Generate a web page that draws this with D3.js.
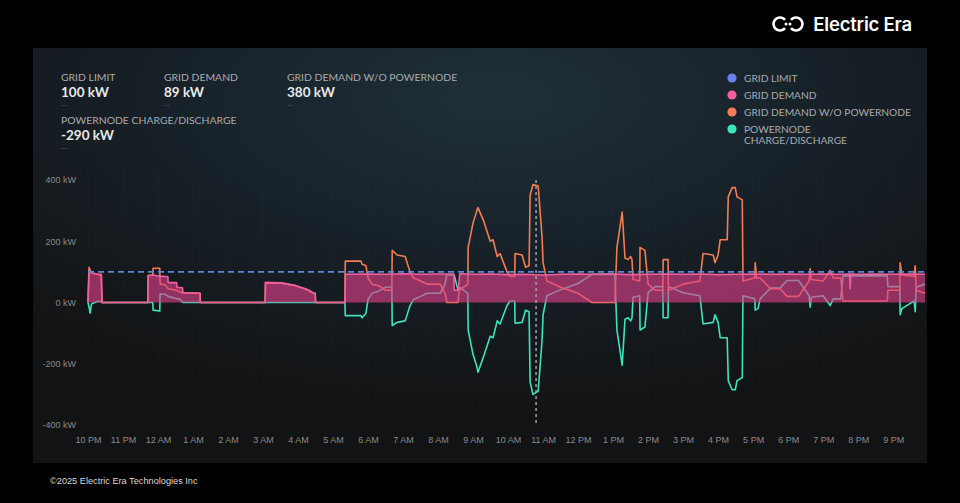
<!DOCTYPE html>
<html>
<head>
<meta charset="utf-8">
<script src="https://cdn.jsdelivr.net/npm/d3@7"></script>
<style>
  html, body { margin: 0; padding: 0; background: #000; }
  svg { display: block; }
</style>
</head>
<body>
<div id="chart"></div>
<script>
// hours after 10 PM -> kW
var gridLimit = [[0, 100], [23.91, 100]];

var gridDemand = [
  [0, 0], [0.03, 100], [0.1, 97], [0.25, 93], [0.38, 92], [0.4, 0],
  [1.71, 0], [1.72, 88], [1.86, 90], [2.05, 86], [2.2, 85], [2.28, 85], [2.29, 65], [2.53, 65], [2.54, 50], [2.7, 48], [2.71, 32], [3.2, 30], [3.21, 0],
  [5.06, 0], [5.07, 65], [5.49, 64], [5.7, 60], [5.9, 56], [6.06, 50], [6.2, 45], [6.3, 40], [6.43, 31], [6.49, 30], [6.5, 0],
  [7.34, 0], [7.35, 92], [8.0, 93], [8.5, 92], [9.0, 94], [9.5, 92], [10.0, 93], [10.45, 93], [10.46, 40], [10.57, 40], [10.6, 70], [10.62, 94],
  [11.0, 92], [11.5, 93], [12.0, 91], [12.5, 92], [13.0, 90], [13.5, 92], [14.0, 93], [14.5, 92], [15.0, 93], [15.5, 91], [16.0, 92],
  [16.5, 93], [17.0, 92], [17.5, 93], [18.0, 91], [18.5, 92], [19.0, 93], [19.5, 92], [20.0, 93], [20.5, 92], [21.0, 93], [21.5, 92],
  [21.76, 93], [21.77, 45], [21.79, 93], [22.0, 92], [22.5, 93], [23.0, 92], [23.5, 93], [23.91, 92]
];

var demandNoPowernode = [
  [0, 0], [0.03, 115], [0.08, 100], [0.12, 96], [0.38, 88], [0.4, 0],
  [1.71, 0], [1.72, 88], [1.85, 88], [1.86, 112], [2.05, 112], [2.06, 60], [2.2, 58], [2.29, 45], [2.54, 40], [2.6, 35], [2.71, 32], [3.2, 30], [3.21, 0],
  [5.06, 0], [5.07, 65], [5.49, 64], [5.7, 60], [5.9, 56], [6.06, 50], [6.2, 45], [6.3, 40], [6.43, 31], [6.49, 30], [6.5, 0],
  [7.34, 0], [7.35, 135], [7.8, 135], [7.83, 125], [7.94, 120], [8.0, 80], [8.11, 60], [8.3, 55], [8.5, 40], [8.68, 40],
  [8.69, 170], [8.83, 155], [9.06, 150], [9.2, 100], [9.3, 80], [9.5, 70], [9.69, 60], [10.06, 60], [10.2, 30], [10.25, 0], [10.57, 0],
  [10.6, 40], [10.85, 60], [10.86, 180], [11.0, 260], [11.11, 300], [11.14, 310], [11.29, 270], [11.49, 200], [11.57, 205], [11.69, 150],
  [11.77, 160], [11.97, 100], [12.06, 85], [12.19, 85], [12.2, 160], [12.4, 155], [12.5, 115], [12.6, 120], [12.63, 350], [12.71, 385],
  [12.86, 380], [12.97, 215], [13.0, 130], [13.11, 70], [13.5, 50], [14.0, 30], [14.4, 0], [15.05, 0],
  [15.11, 180], [15.26, 295], [15.34, 145], [15.43, 140], [15.5, 150], [15.54, 140], [15.57, 75], [15.76, 70], [15.77, 180], [15.91, 170],
  [16.0, 60], [16.2, 40], [16.42, 40], [16.43, 140], [16.57, 140], [16.58, 40], [17.0, 60], [17.48, 70],
  [17.57, 160], [17.86, 155], [17.91, 130], [18.0, 155], [18.06, 205], [18.26, 205], [18.29, 345], [18.4, 375], [18.49, 375], [18.54, 345],
  [18.69, 335], [18.71, 70], [19.05, 80], [19.06, 130], [19.1, 80], [19.2, 80], [19.5, 45], [19.77, 45], [19.97, 20], [20.3, 20],
  [20.6, 70], [20.63, 110], [20.66, 75], [21.0, 70], [21.2, 105], [21.29, 80], [21.5, 80], [21.57, 5], [22.83, 5], [22.85, 40],
  [23.19, 40], [23.2, 130], [23.25, 90], [23.6, 85], [23.63, 120], [23.66, 40], [23.91, 30]
];

var powernode = [
  [0, 0], [0.03, -15], [0.06, -35], [0.1, -5], [0.25, 3], [0.38, 4], [0.4, 0],
  [1.71, 0], [1.85, 0], [1.86, -25], [2.05, -28], [2.06, 28], [2.2, 27], [2.29, 20], [2.54, 12], [2.6, 13], [2.71, 0], [7.34, 0],
  [7.35, -43], [7.8, -43], [7.83, -50], [7.94, -35], [8.0, 10], [8.11, 30], [8.3, 37], [8.5, 50], [8.68, 50],
  [8.69, -75], [8.83, -65], [9.06, -60], [9.2, -10], [9.3, 10], [9.5, 20], [9.69, 30], [10.06, 30], [10.2, 60], [10.25, 90], [10.46, 90],
  [10.57, 40], [10.6, 50], [10.85, 30], [10.86, -90], [11.0, -170], [11.11, -210], [11.14, -228], [11.29, -180], [11.49, -110], [11.57, -115],
  [11.69, -60], [11.77, -70], [11.97, -10], [12.06, 5], [12.19, 5], [12.2, -68], [12.4, -65], [12.5, -25], [12.6, -30], [12.63, -260],
  [12.71, -300], [12.86, -290], [12.97, -125], [13.0, -40], [13.11, 22], [13.5, 42], [14.0, 62], [14.4, 92], [15.05, 92],
  [15.11, -90], [15.26, -205], [15.34, -55], [15.43, -50], [15.5, -60], [15.54, -50], [15.57, 17], [15.76, 22], [15.77, -90], [15.91, -80],
  [16.0, 32], [16.2, 52], [16.42, 52], [16.43, -50], [16.57, -50], [16.58, 52], [17.0, 32], [17.48, 22],
  [17.57, -70], [17.86, -65], [17.91, -40], [18.0, -65], [18.06, -115], [18.26, -115], [18.29, -255], [18.4, -285], [18.49, -285], [18.54, -255],
  [18.69, -245], [18.71, 22], [19.05, 12], [19.06, -25], [19.14, -20], [19.2, 12], [19.5, 47], [19.77, 47], [19.97, 72], [20.3, 72],
  [20.6, 22], [20.63, -15], [20.66, 17], [21.0, 22], [21.2, -10], [21.29, 12], [21.5, 12], [21.57, 87], [22.83, 87], [22.85, 52],
  [23.19, 52], [23.2, -40], [23.25, -20], [23.6, 5], [23.63, -30], [23.66, 50], [23.91, 60]
];

var cursorHour = 12.8;
var yTicks = [400, 200, 0, -200, -400];

var statLabels = ["GRID LIMIT", "GRID DEMAND", "GRID DEMAND W/O POWERNODE", "POWERNODE CHARGE/DISCHARGE"];
var statValues = ["100 kW", "89 kW", "380 kW", "-290 kW"];
var legendLabels = [["GRID LIMIT"], ["GRID DEMAND"], ["GRID DEMAND W/O POWERNODE"], ["POWERNODE", "CHARGE/DISCHARGE"]];
var colors = ["#6f7ff0", "#f0609e", "#f47c52", "#3ee3bb"];

var W = 960, H = 503;
var start = new Date(2025, 0, 1, 22, 0);
function toDate(h) { return new Date(start.getTime() + h * 3600e3); }

var svg = d3.select("#chart").append("svg")
    .attr("width", W)
    .attr("height", H);

var defs = svg.append("defs");
var grad = defs.append("radialGradient")
    .attr("id", "panelGrad")
    .attr("cx", "52%").attr("cy", "12%").attr("r", "75%");
grad.append("stop").attr("offset", "0%").attr("stop-color", "#1f2f38");
grad.append("stop").attr("offset", "45%").attr("stop-color", "#18222a");
grad.append("stop").attr("offset", "100%").attr("stop-color", "#121314");

svg.append("rect").attr("width", W).attr("height", H).attr("fill", "#000");

// panel
svg.append("rect")
    .attr("x", 33).attr("y", 48)
    .attr("width", 894).attr("height", 415)
    .attr("fill", "url(#panelGrad)");

// header logo: two facing brackets with a pair of dots
var logo = svg.append("g").attr("transform", "translate(780,24)");
logo.append("path")
    .attr("d", d3.arc()({ innerRadius: 5.2, outerRadius: 7.8, startAngle: Math.PI * 0.72, endAngle: Math.PI * 2.28 }))
    .attr("fill", "#fff");
logo.append("path")
    .attr("transform", "translate(16,0)")
    .attr("d", d3.arc()({ innerRadius: 5.2, outerRadius: 7.8, startAngle: -Math.PI * 0.28, endAngle: Math.PI * 1.28 }))
    .attr("fill", "#fff");
logo.append("circle").attr("cx", 6).attr("cy", 0).attr("r", 1.5).attr("fill", "#fff");
logo.append("circle").attr("cx", 10).attr("cy", 0).attr("r", 1.5).attr("fill", "#fff");
svg.append("text")
    .attr("x", 912).attr("y", 31)
    .attr("text-anchor", "end")
    .attr("font-family", "Inter")
    .attr("font-weight", 600)
    .attr("font-size", "18.5px")
    .attr("letter-spacing", "-0.2px")
    .attr("fill", "#fff")
    .text("Electric Era");

// footer
svg.append("text")
    .attr("x", 50).attr("y", 484)
    .attr("font-family", "Liberation Sans")
    .attr("font-size", "9.2px")
    .attr("fill", "#d8d8d8")
    .text("\u00a92025 Electric Era Technologies Inc");

// scales
var x = d3.scaleTime()
    .domain([toDate(0), toDate(23.91)])
    .range([88, 925]);
var y = d3.scaleLinear()
    .domain([-400, 400])
    .range([425, 180]);

// faint hour grid
svg.append("g").selectAll("line")
    .data(x.ticks(d3.timeHour.every(1)))
    .join("line")
    .attr("x1", function(d) { return x(d); })
    .attr("x2", function(d) { return x(d); })
    .attr("y1", 172).attr("y2", 430)
    .attr("stroke", "#ffffff")
    .attr("stroke-opacity", 0.025);

// y axis
var yAxis = svg.append("g")
    .attr("transform", "translate(76,0)")
    .call(d3.axisLeft(y).tickValues(yTicks).tickSize(0).tickPadding(0)
        .tickFormat(function(d) { return d + " kW"; }));
yAxis.select(".domain").remove();
yAxis.selectAll("text")
    .attr("font-family", "Liberation Sans")
    .attr("font-size", "9px")
    .attr("fill", "#8a8a8a");

// x axis
var xAxis = svg.append("g")
    .attr("transform", "translate(0,437)")
    .call(d3.axisBottom(x).ticks(d3.timeHour.every(1)).tickSize(0).tickPadding(0)
        .tickFormat(d3.timeFormat("%-I %p")));
xAxis.select(".domain").remove();
xAxis.selectAll("text")
    .attr("font-family", "Liberation Sans")
    .attr("font-size", "9px")
    .attr("fill", "#8a8a8a");

var line = d3.line()
    .x(function(d) { return x(toDate(d[0])); })
    .y(function(d) { return y(d[1]); });

var area = d3.area()
    .x(function(d) { return x(toDate(d[0])); })
    .y0(y(0))
    .y1(function(d) { return y(d[1]); });

// powernode + w/o lines sit under the demand fill
svg.append("path")
    .datum(powernode)
    .attr("d", line)
    .attr("fill", "none")
    .attr("stroke", colors[3])
    .attr("stroke-width", 1.6)
    .attr("stroke-linejoin", "round");

svg.append("path")
    .datum(demandNoPowernode)
    .attr("d", line)
    .attr("fill", "none")
    .attr("stroke", colors[2])
    .attr("stroke-width", 1.6)
    .attr("stroke-linejoin", "round");

svg.append("path")
    .datum(gridDemand)
    .attr("d", area)
    .attr("fill", "#e0408c")
    .attr("fill-opacity", 0.62);

svg.append("path")
    .datum(gridDemand)
    .attr("d", line)
    .attr("fill", "none")
    .attr("stroke", colors[1])
    .attr("stroke-width", 1.6)
    .attr("stroke-linejoin", "round");

svg.append("path")
    .datum(gridLimit)
    .attr("d", line)
    .attr("fill", "none")
    .attr("stroke", "#5d86d6")
    .attr("stroke-width", 1.6)
    .attr("stroke-dasharray", "6,4");

// hover cursor
svg.append("line")
    .attr("x1", x(toDate(cursorHour))).attr("x2", x(toDate(cursorHour)))
    .attr("y1", 180).attr("y2", 425)
    .attr("stroke", "#a0a0a0")
    .attr("stroke-width", 1.5)
    .attr("stroke-dasharray", "3,3");

// stats block
var statPos = [[61, 81], [164, 81], [287, 81], [61, 124]];
statLabels.forEach(function(label, i) {
    var g = svg.append("g").attr("transform", "translate(" + statPos[i][0] + "," + statPos[i][1] + ")");
    g.append("text")
        .attr("font-family", "Lato")
        .attr("font-size", "10.4px")
        .attr("fill", "#a8abad")
        .text(label);
    g.append("text")
        .attr("y", 16)
        .attr("font-family", "Lato")
        .attr("font-weight", "bold")
        .attr("font-size", "13.5px")
        .attr("fill", "#e8e8e8")
        .text(statValues[i]);
    g.append("text")
        .attr("y", 27)
        .attr("font-family", "Lato")
        .attr("font-size", "8px")
        .attr("fill", "#5a5e60")
        .text("--");
});

// legend
var legend = svg.append("g").attr("transform", "translate(732,78)");
legendLabels.forEach(function(lines, i) {
    var g = legend.append("g").attr("transform", "translate(0," + (i * 17) + ")");
    g.append("circle")
        .attr("r", 4.6)
        .attr("fill", colors[i]);
    lines.forEach(function(t, j) {
        g.append("text")
            .attr("x", 12)
            .attr("y", j * 11.5)
            .attr("dy", "0.35em")
            .attr("font-family", "Lato")
            .attr("font-size", "10.2px")
            .attr("fill", "#a8abad")
            .text(t);
    });
});
</script>
</body>
</html>
